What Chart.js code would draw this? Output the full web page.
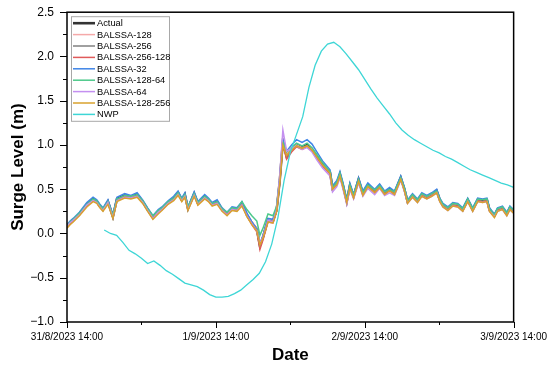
<!DOCTYPE html>
<html><head><meta charset="utf-8">
<script src="https://cdn.jsdelivr.net/npm/chart.js@4/dist/chart.umd.min.js"></script>
<style>html,body{margin:0;padding:0;background:#fff}</style>
</head><body>
<canvas id="c" width="550" height="374"></canvas>
<script>
// hours since 31/8/2023 14:00
const hours = [0,0.5,1.0,2.0,3.2,4.2,4.8,5.3,5.8,6.6,
7.4,8.05,9.3,10.3,11.3,12.2,13.0,13.85,14.7,15.3,
16.3,17.2,17.9,18.5,19.0,19.5,20.5,21.1,22.2,22.8,
23.4,24.2,25.0,25.8,26.6,27.4,28.2,29.0,29.8,30.6,
31.1,31.6,32.4,33.2,33.8,34.3,34.8,35.4,36.2,37.0,
37.9,38.7,39.5,40.3,41.2,42.4,42.8,43.5,44.0,44.5,
45.1,45.6,46.2,47.0,47.7,48.5,49.6,50.4,51.2,52.0,
52.8,53.8,54.4,54.9,55.7,56.5,57.2,58.0,58.8,59.6,
60.1,60.6,61.4,62.2,63.0,63.8,64.6,65.4,66.2,67.0,
67.7,68.1,68.9,69.4,70.2,70.9,71.4,72];

const actual = [0.08,0.12,0.15,0.22,0.33,0.39,0.36,0.31,0.27,0.36,
0.19,0.39,0.43,0.41,0.44,0.36,0.27,0.18,0.25,0.28,
0.35,0.40,0.46,0.38,0.44,0.28,0.45,0.34,0.42,0.38,
0.33,0.36,0.27,0.22,0.28,0.27,0.34,0.21,0.12,0.05,
-0.14,-0.04,0.16,0.14,0.27,0.60,1.04,0.87,0.95,1.00,
0.97,1.00,0.95,0.87,0.78,0.69,0.51,0.57,0.67,0.54,
0.36,0.54,0.42,0.61,0.45,0.55,0.48,0.54,0.46,0.50,
0.46,0.63,0.50,0.36,0.43,0.37,0.44,0.41,0.44,0.48,
0.38,0.32,0.28,0.33,0.32,0.27,0.38,0.27,0.38,0.37,
0.38,0.27,0.20,0.27,0.29,0.22,0.29,0.25];

const balssa128 = [0.09,0.12,0.16,0.22,0.32,0.38,0.36,0.31,0.28,0.35,
0.20,0.38,0.42,0.41,0.43,0.36,0.28,0.19,0.25,0.28,
0.35,0.39,0.45,0.38,0.43,0.29,0.44,0.34,0.41,0.38,
0.33,0.35,0.27,0.23,0.28,0.27,0.33,0.22,0.13,0.06,
-0.12,-0.03,0.16,0.15,0.28,0.62,1.06,0.90,0.96,1.00,
0.97,0.99,0.95,0.86,0.77,0.68,0.51,0.56,0.66,0.54,
0.37,0.53,0.42,0.60,0.45,0.54,0.48,0.53,0.46,0.49,
0.46,0.62,0.50,0.37,0.43,0.37,0.44,0.41,0.44,0.47,
0.38,0.32,0.28,0.33,0.32,0.27,0.37,0.27,0.37,0.36,
0.37,0.27,0.21,0.27,0.29,0.22,0.29,0.25];

const balssa256 = [0.07,0.11,0.14,0.21,0.32,0.38,0.35,0.30,0.26,0.35,
0.18,0.38,0.42,0.40,0.43,0.35,0.26,0.17,0.24,0.27,
0.34,0.39,0.45,0.37,0.43,0.27,0.44,0.33,0.41,0.37,
0.32,0.35,0.26,0.21,0.27,0.26,0.33,0.20,0.11,0.04,
-0.15,-0.05,0.15,0.13,0.26,0.58,1.02,0.86,0.94,0.99,
0.96,0.99,0.94,0.86,0.77,0.68,0.50,0.56,0.66,0.53,
0.35,0.53,0.41,0.60,0.44,0.54,0.47,0.53,0.45,0.49,
0.45,0.62,0.49,0.35,0.42,0.36,0.43,0.40,0.43,0.47,
0.37,0.31,0.27,0.32,0.31,0.26,0.37,0.26,0.37,0.36,
0.37,0.26,0.19,0.26,0.28,0.21,0.28,0.24];

const balssa256_128 = [0.08,0.12,0.15,0.21,0.32,0.38,0.35,0.30,0.27,0.35,
0.19,0.38,0.42,0.40,0.43,0.35,0.27,0.18,0.24,0.27,
0.34,0.39,0.45,0.37,0.43,0.28,0.44,0.33,0.41,0.37,
0.32,0.35,0.26,0.22,0.27,0.26,0.33,0.20,0.10,0.02,
-0.18,-0.07,0.13,0.12,0.25,0.58,1.01,0.84,0.92,0.98,
0.95,0.98,0.93,0.85,0.76,0.67,0.50,0.55,0.65,0.53,
0.35,0.52,0.41,0.59,0.44,0.53,0.47,0.53,0.45,0.49,
0.45,0.61,0.49,0.35,0.42,0.36,0.43,0.40,0.43,0.47,
0.37,0.31,0.27,0.32,0.31,0.26,0.37,0.26,0.37,0.36,
0.37,0.26,0.20,0.26,0.28,0.21,0.28,0.24];

const balssa32 = [0.10,0.14,0.17,0.24,0.35,0.41,0.38,0.33,0.29,0.38,
0.21,0.41,0.45,0.43,0.46,0.38,0.29,0.20,0.27,0.30,
0.37,0.42,0.48,0.40,0.46,0.30,0.47,0.36,0.44,0.40,
0.35,0.38,0.29,0.24,0.30,0.29,0.36,0.23,0.13,0.05,
-0.12,-0.02,0.17,0.16,0.29,0.62,1.06,0.93,1.00,1.06,
1.03,1.06,1.01,0.92,0.82,0.72,0.54,0.60,0.70,0.57,
0.38,0.57,0.44,0.63,0.48,0.57,0.50,0.56,0.48,0.52,
0.48,0.65,0.52,0.38,0.45,0.39,0.46,0.43,0.46,0.50,
0.40,0.34,0.30,0.35,0.34,0.29,0.40,0.29,0.40,0.39,
0.40,0.29,0.22,0.29,0.31,0.24,0.31,0.27];

const balssa128_64 = [0.09,0.13,0.16,0.23,0.33,0.39,0.37,0.32,0.28,0.36,
0.21,0.39,0.43,0.42,0.44,0.37,0.28,0.20,0.26,0.29,
0.36,0.40,0.46,0.39,0.44,0.30,0.45,0.35,0.42,0.39,
0.34,0.36,0.28,0.24,0.29,0.28,0.36,0.27,0.20,0.14,
-0.02,0.06,0.22,0.20,0.31,0.62,1.03,0.92,0.97,1.02,
0.99,1.02,0.97,0.89,0.80,0.70,0.52,0.58,0.68,0.55,
0.37,0.55,0.43,0.61,0.46,0.55,0.49,0.54,0.47,0.50,
0.47,0.63,0.51,0.37,0.44,0.38,0.45,0.42,0.45,0.48,
0.39,0.33,0.29,0.34,0.33,0.28,0.39,0.28,0.39,0.38,
0.39,0.28,0.21,0.28,0.30,0.23,0.30,0.26];

const balssa64 = [0.08,0.12,0.15,0.21,0.32,0.37,0.35,0.30,0.26,0.35,
0.18,0.37,0.41,0.40,0.42,0.35,0.26,0.17,0.24,0.27,
0.34,0.38,0.44,0.37,0.42,0.27,0.43,0.33,0.40,0.37,
0.32,0.34,0.26,0.21,0.27,0.26,0.32,0.20,0.11,0.03,
-0.11,-0.04,0.15,0.13,0.27,0.66,1.17,0.93,0.96,0.99,
0.95,0.97,0.92,0.83,0.74,0.65,0.47,0.53,0.63,0.50,
0.33,0.50,0.39,0.57,0.42,0.51,0.44,0.51,0.43,0.46,
0.43,0.60,0.47,0.34,0.41,0.35,0.42,0.39,0.42,0.46,
0.36,0.30,0.26,0.31,0.30,0.25,0.36,0.25,0.36,0.35,
0.36,0.25,0.19,0.25,0.27,0.20,0.27,0.23];

const balssa128_256 = [0.06,0.10,0.13,0.20,0.30,0.36,0.34,0.29,0.25,0.33,
0.17,0.36,0.40,0.39,0.41,0.34,0.25,0.16,0.22,0.26,
0.33,0.37,0.43,0.36,0.41,0.26,0.42,0.32,0.39,0.36,
0.31,0.33,0.25,0.20,0.26,0.25,0.31,0.19,0.10,0.03,
-0.13,-0.05,0.13,0.12,0.25,0.57,1.00,0.88,0.94,0.99,
0.96,0.99,0.94,0.86,0.77,0.68,0.50,0.55,0.65,0.52,
0.35,0.52,0.40,0.59,0.43,0.53,0.46,0.52,0.44,0.48,
0.44,0.61,0.48,0.34,0.41,0.35,0.42,0.39,0.42,0.46,
0.36,0.30,0.26,0.31,0.30,0.25,0.36,0.25,0.36,0.35,
0.36,0.25,0.18,0.25,0.27,0.20,0.27,0.23];

const nwpHours = [6,7,8,9,10,11,12,13,14,15,
16,17,18,19,20,21,22,23,24,25,
26,27,28,29,30,31,32,33,34,35,
36,37,38,39,40,41,42,43,44,45,
46,47,48,49,50,51,52,53,54,55,
56,57,58,59,60,61,62,63,64,65,
66,67,68,69,70,71,72];
const nwp = [0.04,0.00,-0.02,-0.10,-0.19,-0.23,-0.28,-0.34,-0.31,-0.36,
-0.42,-0.46,-0.51,-0.56,-0.58,-0.60,-0.64,-0.69,-0.72,-0.72,
-0.71,-0.68,-0.64,-0.58,-0.52,-0.45,-0.32,-0.12,0.18,0.60,
0.92,1.12,1.32,1.65,1.90,2.06,2.14,2.16,2.11,2.03,
1.94,1.85,1.74,1.63,1.53,1.44,1.35,1.25,1.17,1.11,
1.06,1.02,0.98,0.94,0.91,0.87,0.84,0.80,0.76,0.72,
0.69,0.66,0.63,0.60,0.57,0.55,0.52];

const xTickValues = [0,24,48,72];
const xTickLabels = ['31/8/2023 14:00','1/9/2023 14:00','2/9/2023 14:00','3/9/2023 14:00'];

const seriesNames = ['Actual','BALSSA-128','BALSSA-256','BALSSA-256-128','BALSSA-32','BALSSA-128-64','BALSSA-64','BALSSA-128-256','NWP'];
const seriesValues = [actual,balssa128,balssa256,balssa256_128,balssa32,balssa128_64,balssa64,balssa128_256,nwp];
const seriesColors = ['#333333','#f5a9a9','#808080','#e05a5a','#3f84e6','#4cc98a','#c490f0','#d9a22e','#3ed6d6'];
const seriesWidths = [2.4,1.5,1.5,1.5,1.5,1.5,1.5,1.5,1.3];

const FONT = '"Liberation Sans", Arial, sans-serif';

const datasets = seriesNames.map((name,i)=>{
  const xs = name==='NWP' ? nwpHours : hours;
  return {
    label: name,
    data: seriesValues[i].map((v,j)=>({x: xs[j], y: v})),
    borderColor: seriesColors[i],
    backgroundColor: seriesColors[i],
    borderWidth: seriesWidths[i],
    pointRadius: 0,
    tension: 0,
    fill: false,
    order: 20 - i
  };
});

const decor = {
  id: 'decor',
  afterDraw(chart){
    const {ctx, chartArea:a, scales:{x, y}} = chart;
    ctx.save();
    ctx.strokeStyle = '#000';
    ctx.lineWidth = 1;
    ctx.beginPath();
    y.ticks.forEach(t=>{
      const p = Math.round(y.getPixelForValue(t.value)) + 0.5;
      const major = Math.abs(t.value*2 - Math.round(t.value*2)) < 1e-6;
      const len = major ? 7 : 4;
      ctx.moveTo(a.left, p); ctx.lineTo(a.left - len, p);
    });
    x.ticks.forEach(t=>{
      const p = Math.round(x.getPixelForValue(t.value)) + 0.5;
      const major = xTickValues.includes(t.value);
      const len = major ? 6 : 3;
      ctx.moveTo(p, a.bottom); ctx.lineTo(p, a.bottom + len);
    });
    ctx.stroke();
    ctx.lineWidth = 1.5;
    ctx.strokeRect(a.left, a.top, a.right - a.left, a.bottom - a.top);
    const lx = a.left + 4, ly = a.top + 4, w = 98, rowH = 11.4, h = 9*rowH + 2;
    ctx.fillStyle = '#fff';
    ctx.fillRect(lx, ly, w, h);
    ctx.strokeStyle = '#a8a8a8';
    ctx.lineWidth = 1;
    ctx.strokeRect(lx + 0.5, ly + 0.5, w, h);
    ctx.font = '9.3px ' + FONT;
    ctx.textBaseline = 'middle';
    ctx.textAlign = 'left';
    chart.data.datasets.forEach((d, i)=>{
      const cy = ly + 7 + i*rowH;
      ctx.strokeStyle = d.borderColor;
      ctx.lineWidth = i === 0 ? 2.6 : 1.5;
      ctx.beginPath();
      ctx.moveTo(lx + 2, cy); ctx.lineTo(lx + 24, cy);
      ctx.stroke();
      ctx.fillStyle = '#000';
      ctx.fillText(d.label, lx + 26, cy + 0.5);
    });
    ctx.restore();
  }
};

const fmt = v => (v < 0 ? '\u2212' : '') + Math.abs(v).toFixed(1);

new Chart(document.getElementById('c'), {
  type: 'line',
  data: { datasets },
  options: {
    responsive: false,
    animation: false,
    devicePixelRatio: 1,
    layout: { padding: { top: 10, right: 36, left: 0, bottom: 0 } },
    plugins: { legend: { display: false }, tooltip: { enabled: false } },
    scales: {
      x: {
        type: 'linear', min: 0, max: 72,
        afterFit: s => { s.height = 52; },
        grid: { display: true, drawOnChartArea: false, drawTicks: true, tickLength: 6, tickColor: 'rgba(0,0,0,0)', color: 'rgba(0,0,0,0)' },
        border: { display: false },
        ticks: {
          stepSize: 12, autoSkip: false, maxRotation: 0, minRotation: 0, padding: 3,
          color: '#000', font: { family: FONT, size: 10 },
          callback: v => { const k = xTickValues.indexOf(v); return k >= 0 ? xTickLabels[k] : ''; }
        },
        title: { display: true, text: 'Date', color: '#000', font: { family: FONT, size: 17, weight: 'bold' }, padding: { top: 0, bottom: 8 } }
      },
      y: {
        type: 'linear', min: -1, max: 2.5,
        afterFit: s => { s.width = 67; },
        grid: { display: true, drawOnChartArea: false, drawTicks: true, tickLength: 8, tickColor: 'rgba(0,0,0,0)', color: 'rgba(0,0,0,0)' },
        border: { display: false },
        ticks: {
          stepSize: 0.25, autoSkip: false, padding: 5,
          color: '#000', font: { family: FONT, size: 12 },
          callback: v => Math.abs(v*2 - Math.round(v*2)) < 1e-6 ? fmt(v) : ''
        },
        title: { display: true, text: 'Surge Level (m)', color: '#000', font: { family: FONT, size: 17, weight: 'bold' }, padding: { top: 8, bottom: 0 } }
      }
    }
  },
  plugins: [decor]
});
</script>
</body></html>
